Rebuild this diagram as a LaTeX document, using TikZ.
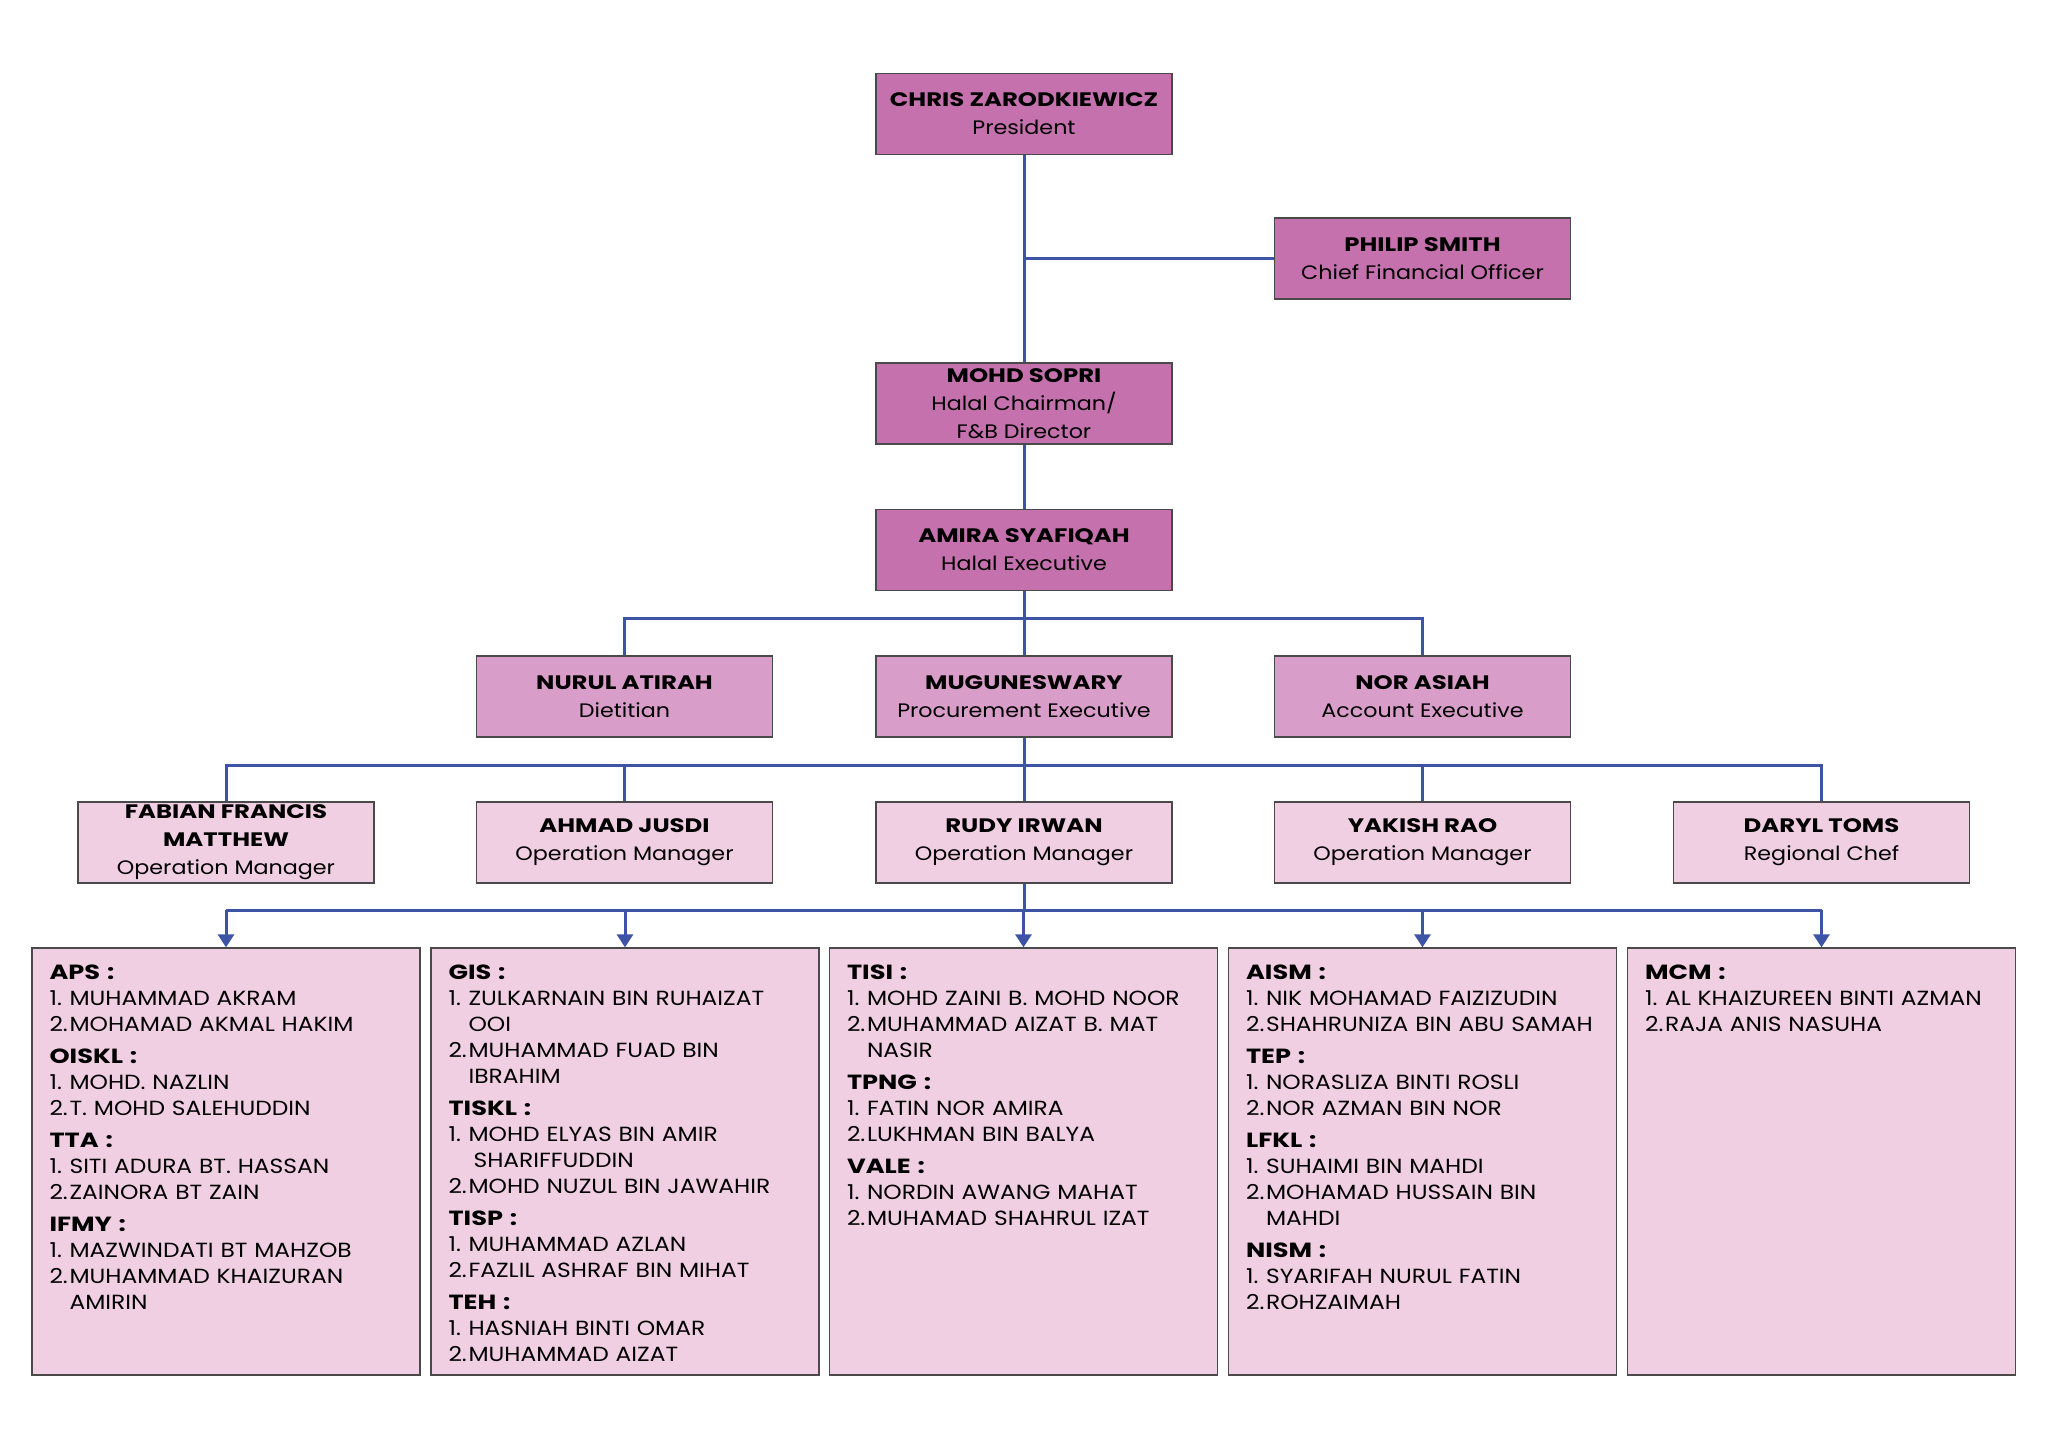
\documentclass[tikz,border=0pt]{standalone}
\usepackage{fontspec}
\setmainfont{Poppins}[FakeStretch=1.14,BoldFeatures={FakeStretch=1.25}]
\usetikzlibrary{arrows.meta,positioning}
\definecolor{cdark}{HTML}{C571AE}
\definecolor{cmid}{HTML}{D99DC9}
\definecolor{clight}{HTML}{F0CFE3}
\definecolor{cline}{HTML}{3D53A6}
\definecolor{cborder}{HTML}{4A4A4A}
\newcommand\hdf[1]{\noindent\textbf{#1}\par}
\newcommand\hd[1]{\par\vskip6pt\noindent\textbf{#1}\par}
\newcommand\li[2]{\par\hangindent=20pt\hangafter=1\noindent\makebox[20pt][l]{#1}#2\par}
\tikzset{
  box/.style={draw=cborder, line width=1.3pt, minimum width=296pt, minimum height=81pt,
    align=center, inner sep=0pt, font=\fontsize{19.5}{28}\selectfont},
  dark/.style={box, fill=cdark},
  mid/.style={box, fill=cmid},
  light/.style={box, fill=clight},
  listbox/.style={draw=cborder, line width=1.3pt, fill=clight, minimum width=388pt, minimum height=427pt, inner sep=0pt},
  listtext/.style={anchor=north west, inner sep=0pt, text width=372pt,
    font=\fontsize{20.5}{26}\selectfont},
  conn/.style={draw=cline, line width=3pt},
  arr/.style={conn, -{Triangle[width=16pt,length=13pt]}}
}
\begin{document}
\begin{tikzpicture}[x=1pt,y=-1pt]
\useasboundingbox (0,0) rectangle (2048,1448);
% level nodes
\node[dark] (pres) at (1024,114) {\textbf{CHRIS ZARODKIEWICZ}\\President};
\node[dark] (cfo) at (1422.5,258.5) {\textbf{PHILIP SMITH}\\Chief Financial Officer};
\node[dark] (sopri) at (1024,403.5) {\textbf{MOHD SOPRI}\\Halal Chairman/\\F\&B Director};
\node[dark] (amira) at (1024,550) {\textbf{AMIRA SYAFIQAH}\\Halal Executive};
\node[mid] (nurul) at (624.5,696.5) {\textbf{NURUL ATIRAH}\\Dietitian};
\node[mid] (mug) at (1024,696.5) {\textbf{MUGUNESWARY}\\Procurement Executive};
\node[mid] (nor) at (1422.5,696.5) {\textbf{NOR ASIAH}\\Account Executive};
\node[light] (fab) at (226,842.5) {\raisebox{-3pt}{\textbf{FABIAN FRANCIS}}\\\raisebox{-3pt}{\textbf{MATTHEW}}\\\raisebox{-3pt}{Operation Manager}};
\node[light] (ahmad) at (624.5,842.5) {\textbf{AHMAD JUSDI}\\Operation Manager};
\node[light] (rudy) at (1024,842.5) {\textbf{RUDY IRWAN}\\Operation Manager};
\node[light] (yak) at (1422.5,842.5) {\textbf{YAKISH RAO}\\Operation Manager};
\node[light] (daryl) at (1821.5,842.5) {\textbf{DARYL TOMS}\\Regional Chef};
% bottom boxes
\node[listbox] (b1) at (226,1161.5) {};
\node[listbox] (b2) at (625,1161.5) {};
\node[listbox] (b3) at (1023.5,1161.5) {};
\node[listbox] (b4) at (1422.5,1161.5) {};
\node[listbox] (b5) at (1821.5,1161.5) {};
\node[listtext] (t1) at ([xshift=18pt,yshift=-17pt]b1.north west) {%
\hdf{APS :}\li{1.}{MUHAMMAD AKRAM}\li{2.}{MOHAMAD AKMAL HAKIM}%
\hd{OISKL :}\li{1.}{MOHD. NAZLIN}\li{2.}{T. MOHD SALEHUDDIN}%
\hd{TTA :}\li{1.}{SITI ADURA BT. HASSAN}\li{2.}{ZAINORA BT ZAIN}%
\hd{IFMY :}\li{1.}{MAZWINDATI BT MAHZOB}\li{2.}{MUHAMMAD KHAIZURAN\newline AMIRIN}};
\node[listtext] (t2) at ([xshift=18pt,yshift=-17pt]b2.north west) {%
\hdf{GIS :}\li{1.}{ZULKARNAIN BIN RUHAIZAT\newline OOI}\li{2.}{MUHAMMAD FUAD BIN\newline IBRAHIM}%
\hd{TISKL :}\li{1.}{MOHD ELYAS BIN AMIR\newline\hspace*{5pt}SHARIFFUDDIN}\li{2.}{MOHD NUZUL BIN JAWAHIR}%
\hd{TISP :}\li{1.}{MUHAMMAD AZLAN}\li{2.}{FAZLIL ASHRAF BIN MIHAT}%
\hd{TEH :}\li{1.}{HASNIAH BINTI OMAR}\li{2.}{MUHAMMAD AIZAT}};
\node[listtext] (t3) at ([xshift=18pt,yshift=-17pt]b3.north west) {%
\hdf{TISI :}\li{1.}{MOHD ZAINI B. MOHD NOOR}\li{2.}{MUHAMMAD AIZAT B. MAT\newline NASIR}%
\hd{TPNG :}\li{1.}{FATIN NOR AMIRA}\li{2.}{LUKHMAN BIN BALYA}%
\hd{VALE :}\li{1.}{NORDIN AWANG MAHAT}\li{2.}{MUHAMAD SHAHRUL IZAT}};
\node[listtext] (t4) at ([xshift=18pt,yshift=-17pt]b4.north west) {%
\hdf{AISM :}\li{1.}{NIK MOHAMAD FAIZIZUDIN}\li{2.}{SHAHRUNIZA BIN ABU SAMAH}%
\hd{TEP :}\li{1.}{NORASLIZA BINTI ROSLI}\li{2.}{NOR AZMAN BIN NOR}%
\hd{LFKL :}\li{1.}{SUHAIMI BIN MAHDI}\li{2.}{MOHAMAD HUSSAIN BIN\newline MAHDI}%
\hd{NISM :}\li{1.}{SYARIFAH NURUL FATIN}\li{2.}{ROHZAIMAH}};
\node[listtext] (t5) at ([xshift=18pt,yshift=-17pt]b5.north west) {%
\hdf{MCM :}\li{1.}{AL KHAIZUREEN BINTI AZMAN}\li{2.}{RAJA ANIS NASUHA}};
% connectors
\draw[conn] (pres.south) -- (sopri.north);
\draw[conn] (cfo.west) -- (cfo.west -| pres.south);
\draw[conn] (sopri.south) -- (amira.north);
\coordinate (j1) at (1024,618);
\draw[conn] (amira.south) -- (mug.north);
\draw[conn] (nurul.north) |- (j1) -| (nor.north);
\coordinate (j2) at (1024,765);
\draw[conn] (mug.south) -- (rudy.north);
\draw[conn] (fab.north) |- (j2) -| (daryl.north);
\draw[conn] (ahmad.north) -- (ahmad.north |- j2);
\draw[conn] (yak.north) -- (yak.north |- j2);
\coordinate (j3) at (1024,910);
\draw[conn] (rudy.south) -- (j3);
\draw[conn] (b1.north |- j3) -- (b5.north |- j3);
\foreach \b in {b1,b2,b3,b4,b5} \draw[arr] (\b.north |- j3) -- (\b.north);
\end{tikzpicture}
\end{document}
